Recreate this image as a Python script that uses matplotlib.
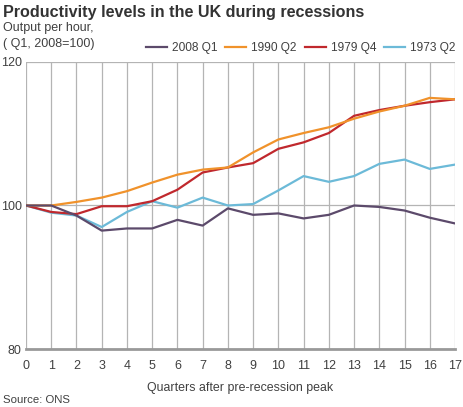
import matplotlib
matplotlib.use("Agg")
import matplotlib.pyplot as plt

# Data (index: Q1 2008 = 100)
quarters = list(range(0, 18))
labels = ["2008 Q1", "1990 Q2", "1979 Q4", "1973 Q2"]
q2008 = [100, 100, 98.6, 96.5, 96.8, 96.8, 98.0, 97.2, 99.6,
         98.7, 98.9, 98.2, 98.7, 100.0, 99.8, 99.3, 98.3, 97.5]
q1990 = [100, 100, 100.5, 101.1, 102.0, 103.2, 104.3, 105.0, 105.3,
         107.4, 109.2, 110.1, 110.9, 112.1, 113.1, 113.9, 115.0, 114.8]
q1979 = [100, 99.1, 98.8, 99.9, 99.9, 100.6, 102.2, 104.6, 105.3,
         105.9, 107.9, 108.8, 110.1, 112.5, 113.3, 113.9, 114.4, 114.8]
q1973 = [100, 99.0, 98.6, 97.0, 99.1, 100.6, 99.7, 101.1, 100.0,
         100.2, 102.1, 104.1, 103.3, 104.1, 105.8, 106.4, 105.1, 105.7]

colors = ["#5c4a6b", "#f0922b", "#c0282d", "#6cbad8"]
text_col = "#404040"

plt.rcParams['font.family'] = ['Liberation Sans', 'DejaVu Sans']

fig = plt.figure(figsize=(4.64, 4.07), dpi=100)
ax = fig.add_axes([26 / 464, 1 - 349 / 407, 429 / 464, 287 / 407])

series = [q2008, q1990, q1979, q1973]
order = [3, 2, 1, 0]  # 2008 drawn last, on top
handles = {}
for i in order:
    ln, = ax.plot(quarters, series[i], color=colors[i], lw=1.6, label=labels[i],
                  zorder=3 + (3 - i))
    handles[i] = ln

ax.set_xlim(0, 17)
ax.set_ylim(80, 120)
ax.set_xticks(quarters)
ax.set_yticks([80, 100, 120])
ax.grid(True, color="#b4b4b4", lw=0.9)
ax.set_axisbelow(True)
for s in ["top", "right", "left"]:
    ax.spines[s].set_visible(False)
ax.spines["bottom"].set_color("#999999")
ax.spines["bottom"].set_linewidth(2)
ax.tick_params(length=0, labelsize=9, labelcolor=text_col)
ax.tick_params(axis="y", pad=3)
ax.tick_params(axis="x", pad=8)
ax.set_xlabel("Quarters after pre-recession peak", fontsize=8.9, color=text_col, labelpad=7)

fig.text(3 / 464, 1 - 12 / 407, "Productivity levels in the UK during recessions",
         fontsize=11.6, fontweight="bold", color="#333333", va="center")
fig.text(3 / 464, 1 - 28 / 407, "Output per hour,", fontsize=9, color=text_col, va="center")
fig.text(3 / 464, 1 - 44 / 407, "( Q1, 2008=100)", fontsize=9, color=text_col, va="center")
fig.text(3 / 464, 1 - 400 / 407, "Source: ONS", fontsize=8.2, color=text_col, va="center")

leg = fig.legend([handles[i] for i in range(4)], labels, ncol=4, frameon=False,
                 loc="center right", bbox_to_anchor=(456 / 464, 1 - 48 / 407),
                 fontsize=8.6, handlelength=1.75, handletextpad=0.45,
                 columnspacing=0.65, borderpad=0, borderaxespad=0)
for t in leg.get_texts():
    t.set_color(text_col)

fig.savefig("out.png", dpi=100)
